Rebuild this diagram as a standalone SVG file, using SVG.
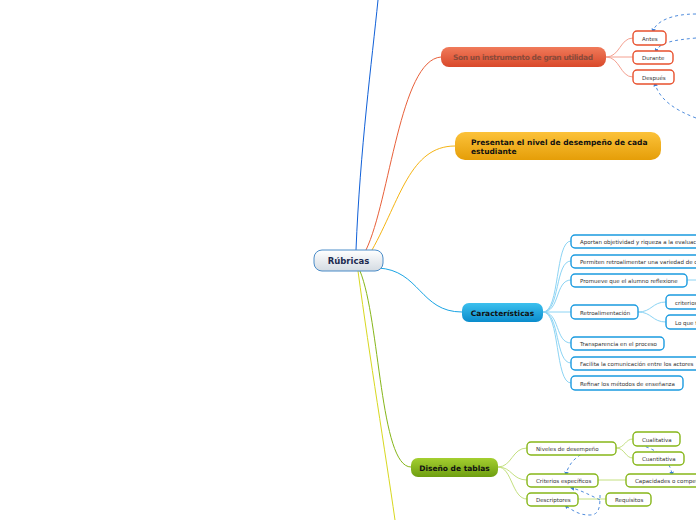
<svg xmlns="http://www.w3.org/2000/svg" width="696" height="520" viewBox="0 0 696 520">
<defs>
<linearGradient id="gR" x1="0" y1="0" x2="0" y2="1"><stop offset="0" stop-color="#f07a5a"/><stop offset="1" stop-color="#d9482a"/></linearGradient>
<linearGradient id="gY" x1="0" y1="0" x2="0" y2="1"><stop offset="0" stop-color="#fcc23a"/><stop offset="1" stop-color="#e59e08"/></linearGradient>
<linearGradient id="gB" x1="0" y1="0" x2="0" y2="1"><stop offset="0" stop-color="#3cc0ee"/><stop offset="1" stop-color="#0a8ccc"/></linearGradient>
<linearGradient id="gG" x1="0" y1="0" x2="0" y2="1"><stop offset="0" stop-color="#a4cf30"/><stop offset="1" stop-color="#6e9e10"/></linearGradient>
<linearGradient id="gW" x1="0" y1="0" x2="0" y2="1"><stop offset="0" stop-color="#ffffff"/><stop offset="1" stop-color="#d4dbe2"/></linearGradient>
<marker id="ar" viewBox="0 0 10 10" refX="5" refY="5" markerWidth="5" markerHeight="5" orient="auto"><path d="M0,0L10,5L0,10z" fill="#3b7fd8"/></marker>
</defs>
<style>
text{font-family:"DejaVu Sans",sans-serif;font-size:5.5px;fill:#333}
.b{font-weight:bold;font-size:7.5px;fill:#111}
.sr{fill:#fff;stroke:#e8502d;stroke-width:1.4}
.sb{fill:#fff;stroke:#1a9be0;stroke-width:1.4}
.sg{fill:#fff;stroke:#86b619;stroke-width:1.4}
.c{fill:none;stroke-width:1}
.d{fill:none;stroke:#3b7fd8;stroke-width:0.9;stroke-dasharray:3,3;marker-end:url(#ar)}
</style>
<g id="connectors">
<path class="c" stroke="#1060d8" stroke-width="1.6" d="M356,250 C360,150 372,60 378,0"/>
<path class="c" stroke="#e8603a" stroke-width="1.4" d="M366,250 C390,200 400,60 441,57"/>
<path class="c" stroke="#f5b414" stroke-width="1.4" d="M372,250 C400,200 410,146 455,146"/>
<path class="c" stroke="#1aa4e4" stroke-width="1.4" d="M378,268 C420,270 420,312 462,312"/>
<path class="c" stroke="#86b619" stroke-width="1.6" d="M360,271 C380,320 380,467 411,467"/>
<path class="c" stroke="#d8d820" stroke-width="1.6" d="M358,271 C370,360 385,450 395,520"/>
<g stroke="#f4a090"><path class="c" d="M606,57 C620,57 620,38 633,38"/><path class="c" d="M606,57 L633,57"/><path class="c" d="M606,57 C620,57 620,77 633,77"/></g>
<g stroke="#8cd4f4">
<path class="c" d="M543,312 C560,312 555,241 571,241"/><path class="c" d="M543,312 C560,312 555,261 571,261"/><path class="c" d="M543,312 C560,312 555,280 571,280"/><path class="c" d="M543,312 L571,312"/><path class="c" d="M543,312 C560,312 555,343 571,343"/><path class="c" d="M543,312 C560,312 555,363 571,363"/><path class="c" d="M543,312 C560,312 555,383 571,383"/>
<path class="c" d="M638,312 C652,312 652,302 666,302"/><path class="c" d="M638,312 C652,312 652,322 666,322"/><path class="c" d="M687,280 L696,280"/></g>
<g stroke="#c4e080">
<path class="c" d="M498,467 C512,467 512,448 527,448"/><path class="c" d="M498,467 C512,467 512,480 527,480"/><path class="c" d="M498,467 C512,467 512,499 527,499"/>
<path class="c" d="M616,448 C625,448 625,439 633,439"/><path class="c" d="M616,448 C625,448 625,458 633,458"/><path class="c" d="M598,480 L626,480"/><path class="c" d="M578,499 L606,499"/></g>
<path class="d" d="M696,14 C670,14 656,22 653,31"/>
<path class="d" d="M696,38 C675,40 660,42 656,51"/>
<path class="d" d="M696,118 C675,110 660,100 655,84"/>
<path class="d" d="M603,446 C580,452 570,460 566,474"/>
<path class="d" d="M640,445 C660,450 670,462 672,474"/>
<path class="d" d="M600,495 C600,505 600,515 590,515 C580,515 575,512 566,506"/>
<path class="d" d="M600,500 C590,495 580,490 572,488"/>
</g>
<g id="n0"><rect x="314" y="250" width="69" height="21" rx="8" fill="url(#gW)" stroke="#4a8cc8" stroke-width="1"/><text class="b" x="348.5" y="263.5" text-anchor="middle" style="fill:#1c2a50;font-size:8.5px">Rúbricas</text></g>
<g id="n1"><rect x="441" y="47" width="165" height="20" rx="8" fill="url(#gR)"/><text class="b" x="523" y="60" text-anchor="middle" style="fill:#8a4a3a" textLength="140">Son un instrumento de gran utilidad</text></g>
<g id="n1a"><rect class="sr" x="633" y="31" width="33" height="14" rx="4"/><text x="642" y="40.5">Antes</text></g>
<g id="n1b"><rect class="sr" x="633" y="51" width="40" height="13" rx="4"/><text x="642" y="60">Durante</text></g>
<g id="n1c"><rect class="sr" x="633" y="70" width="41" height="14" rx="4"/><text x="642" y="79.5">Después</text></g>
<g id="n2"><rect x="455" y="132" width="206" height="28" rx="10" fill="url(#gY)"/><text class="b" x="471" y="144.5">Presentan el nivel de desempeño de cada</text><text class="b" x="471" y="154">estudiante</text></g>
<g id="n3"><rect x="462" y="303" width="81" height="19" rx="7" fill="url(#gB)"/><text class="b" x="502.5" y="315.5" text-anchor="middle">Características</text></g>
<g id="n3a"><rect class="sb" x="571" y="235" width="130" height="13" rx="4"/><text x="580" y="244">Aportan objetividad y riqueza a la evaluación</text></g>
<g id="n3b"><rect class="sb" x="571" y="255" width="130" height="13" rx="4"/><text x="580" y="264">Permiten retroalimentar una variedad de contenidos</text></g>
<g id="n3c"><rect class="sb" x="571" y="274" width="116" height="13" rx="4"/><text x="580" y="283">Promueve que el alumno reflexione</text></g>
<g id="n3d"><rect class="sb" x="571" y="305" width="67" height="14" rx="4"/><text x="580" y="314.5">Retroalimentación</text></g>
<g id="n3e"><rect class="sb" x="666" y="295" width="40" height="14" rx="4"/><text x="675" y="304.5">criterios</text></g>
<g id="n3f"><rect class="sb" x="666" y="315" width="40" height="14" rx="4"/><text x="675" y="324.5">Lo que falta</text></g>
<g id="n3g"><rect class="sb" x="571" y="337" width="93" height="13" rx="4"/><text x="580" y="346">Transparencia en el proceso</text></g>
<g id="n3h"><rect class="sb" x="571" y="357" width="130" height="13" rx="4"/><text x="580" y="366">Facilita la comunicación entre los actores</text></g>
<g id="n3i"><rect class="sb" x="571" y="376" width="112" height="14" rx="4"/><text x="580" y="385.5">Refinar los métodos de enseñanza</text></g>
<g id="n4"><rect x="411" y="458" width="87" height="19" rx="7" fill="url(#gG)"/><text class="b" x="454.5" y="470.5" text-anchor="middle">Diseño de tablas</text></g>
<g id="n4a"><rect class="sg" x="527" y="442" width="89" height="13" rx="4"/><text x="536" y="451">Niveles de desempeño</text></g>
<g id="n4b"><rect class="sg" x="633" y="432" width="47" height="14" rx="4"/><text x="642" y="441.5">Cualitativa</text></g>
<g id="n4c"><rect class="sg" x="633" y="452" width="51" height="13" rx="4"/><text x="642" y="461">Cuantitativa</text></g>
<g id="n4d"><rect class="sg" x="527" y="474" width="71" height="13" rx="4"/><text x="536" y="483">Criterios específicos</text></g>
<g id="n4e"><rect class="sg" x="626" y="474" width="80" height="13" rx="4"/><text x="635" y="483">Capacidades o competencias</text></g>
<g id="n4f"><rect class="sg" x="527" y="493" width="51" height="13" rx="4"/><text x="536" y="502">Descriptores</text></g>
<g id="n4g"><rect class="sg" x="606" y="493" width="45" height="13" rx="4"/><text x="615" y="502">Requisitos</text></g>
</svg>
